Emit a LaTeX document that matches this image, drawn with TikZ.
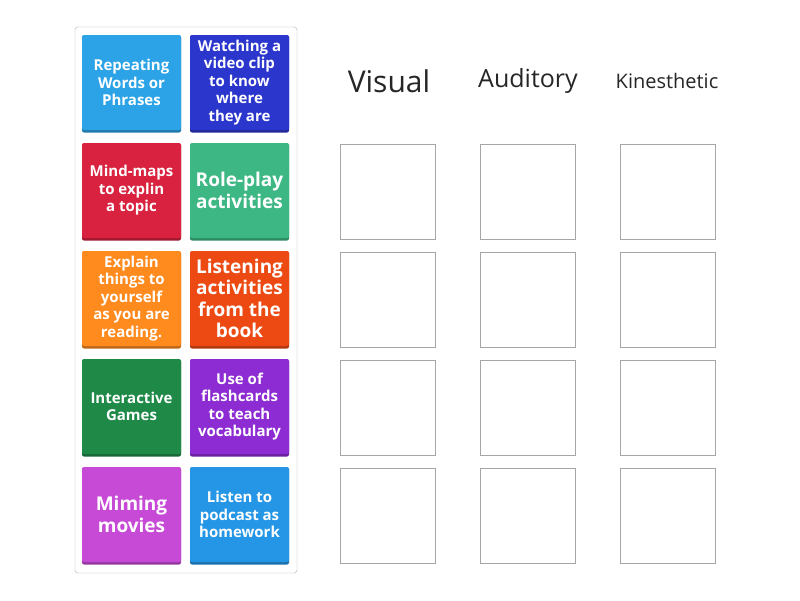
\documentclass[tikz,border=0pt]{standalone}
\usepackage{fontspec}
\setmainfont{Open Sans}
\begin{document}
\begin{tikzpicture}[x=1pt,y=-1pt,
 tile/.style={rounded corners=2pt,minimum width=99pt,minimum height=98pt,inner sep=0pt,text=white,align=center,font=\bfseries\fontsize{15}{17.5}\selectfont},
 big/.style={font=\bfseries\fontsize{19}{21.5}\selectfont},
 slot/.style={draw=black!35,line width=0.8pt,minimum width=95pt,minimum height=95pt,inner sep=0pt}]
\useasboundingbox (0,0) rectangle (800,600);
\fill[white] (0,0) rectangle (800,600);
\node[draw=black!30,rounded corners=3pt,minimum width=222pt,minimum height=546pt] (frame) at (186,300) {};
\def\tl#1#2#3#4#5#6{%
 \fill[#4!75!black,rounded corners=2pt] (#2-49.5,#3-47) rectangle (#2+49.5,#3+50);
 \node[tile,fill=#4,minimum height=95pt,#5] (#1) at (#2,#3) {#6};}
\definecolor{c1}{HTML}{2BA3E6}\definecolor{c2}{HTML}{2A36CC}
\definecolor{c3}{HTML}{D8223F}\definecolor{c4}{HTML}{3DB884}
\definecolor{c5}{HTML}{FF8A1E}\definecolor{c6}{HTML}{EC4A12}
\definecolor{c7}{HTML}{1F8A48}\definecolor{c8}{HTML}{8C2CD2}
\definecolor{c9}{HTML}{C64AD6}\definecolor{c10}{HTML}{2596E6}
\tl{t1}{131.5}{82.5}{c1}{}{Repeating\\Words or\\Phrases}
\tl{t2}{239.5}{82.5}{c2}{}{Watching a\\video clip\\to know\\where\\they are}
\tl{t3}{131.5}{190.5}{c3}{}{Mind-maps\\to explin\\a topic}
\tl{t4}{239.5}{190.5}{c4}{big}{Role-play\\activities}
\tl{t5}{131.5}{298.5}{c5}{}{Explain\\things to\\yourself\\as you are\\reading.}
\tl{t6}{239.5}{298.5}{c6}{big}{Listening\\activities\\from the\\book}
\tl{t7}{131.5}{406.5}{c7}{}{Interactive\\Games}
\tl{t8}{239.5}{406.5}{c8}{}{Use of\\flashcards\\to teach\\vocabulary}
\tl{t9}{131.5}{514.5}{c9}{big}{Miming\\movies}
\tl{t10}{239.5}{514.5}{c10}{}{Listen to\\podcast as\\homework}
\node[font=\fontsize{30}{34}\selectfont,text=black!85] (h1) at (389,81) {Visual};
\node[font=\fontsize{25}{30}\selectfont,text=black!85] (h2) at (528,81) {Auditory};
\node[font=\fontsize{20}{24}\selectfont,text=black!85] (h3) at (667,81) {Kinesthetic};
\foreach \c/\x in {1/388,2/528,3/668}{
 \foreach \r/\y in {1/192,2/300,3/408,4/516}{
  \node[slot] (s\c\r) at (\x,\y) {};}}
\end{tikzpicture}
\end{document}
